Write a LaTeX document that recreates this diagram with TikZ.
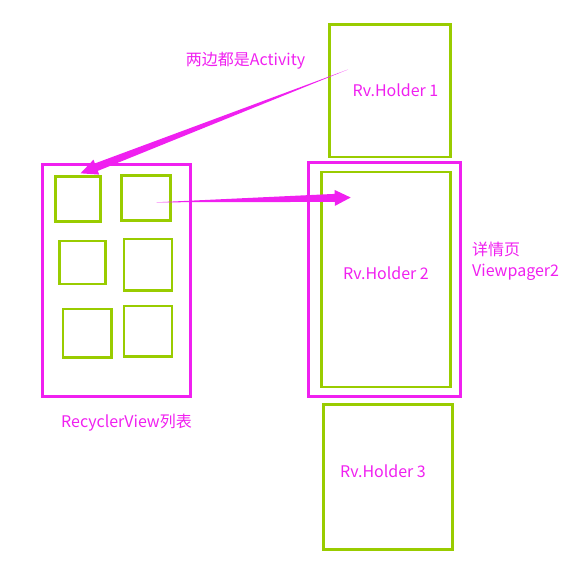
\documentclass[tikz,border=0pt]{standalone}
\usepackage{fontspec}
\setmainfont{Noto Sans CJK SC}
\usetikzlibrary{calc}
\definecolor{mag}{RGB}{240,32,240}
\definecolor{grn}{RGB}{153,204,0}
\newcommand\taperarrow[5]{% from, to, head length, head half width, shaft half width
  \coordinate (tb) at ($(#2)!#3!(#1)$);
  \fill[mag] (#1) -- ($(tb)!#5!90:(#2)$) -- ($(tb)!#4!90:(#2)$) -- (#2)
     -- ($(tb)!#4!-90:(#2)$) -- ($(tb)!#5!-90:(#2)$) -- cycle;}
\begin{document}
\begin{tikzpicture}[x=1pt,y=-1pt,
  gbox/.style={draw=grn,line width=2.6pt,inner sep=0pt,outer sep=0pt},
  mbox/.style={draw=mag,line width=3pt,inner sep=0pt,outer sep=0pt},
  lbl/.style={text=mag,font=\fontsize{16}{21.5}\selectfont,inner sep=0pt}]
\useasboundingbox (0,0) rectangle (574,566);
% RecyclerView
\node[mbox,minimum width=148pt,minimum height=231.5pt] (rv) at (116.5,280.25) {};
\node[gbox,minimum width=45pt,minimum height=45pt] (g1) at (78,199) {};
\node[gbox,minimum width=49pt,minimum height=45pt] (g2) at (146,198) {};
\node[gbox,minimum width=46pt,minimum height=43pt] (g3) at (82.5,262.5) {};
\node[gbox,minimum width=48pt,minimum height=51.5pt] (g4) at (148,264.75) {};
\node[gbox,minimum width=48.5pt,minimum height=48.5pt] (g5) at (87.25,333.25) {};
\node[gbox,minimum width=48pt,minimum height=50.5pt] (g6) at (148,331.25) {};
\node[lbl] (rvl) at (126.5,423) {RecyclerView列表};
% ViewPager
\node[mbox,minimum width=152pt,minimum height=233.5pt] (vp) at (384.5,279.25) {};
\node[gbox,minimum width=121pt,minimum height=132.5pt] (h1) at (390,90.75) {};
\node[gbox,minimum width=129pt,minimum height=215pt] (h2) at (386,279.5) {};
\node[gbox,minimum width=129pt,minimum height=145pt] (h3) at (388,477) {};
\node[lbl] (h1l) at (395.5,90) {Rv.Holder 1};
\node[lbl] (h2l) at (386,273) {Rv.Holder 2};
\node[lbl] (h3l) at (383,471) {Rv.Holder 3};
\node[lbl,align=left,anchor=west] (vpl) at (472,261) {详情页\\Viewpager2};
\node[lbl] (act) at (245.5,61) {两边都是Activity};
% arrows
\coordinate (a1s) at (348,69.5);
\coordinate (a1e) at (80.5,173.3);
\coordinate (a2s) at (156,202.3);
\coordinate (a2e) at (350.7,197.5);
\taperarrow{a1s}{a1e}{17pt}{8pt}{4pt}
\taperarrow{a2s}{a2e}{16pt}{8pt}{4pt}
\end{tikzpicture}
\end{document}
